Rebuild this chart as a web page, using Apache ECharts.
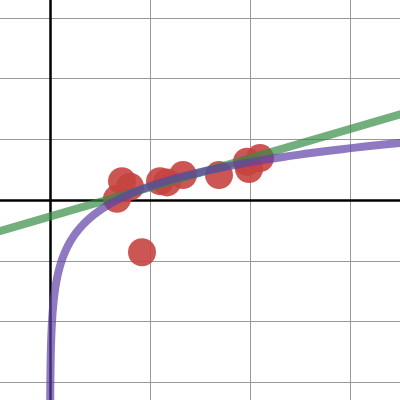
<!DOCTYPE html>
<html>
<head>
<meta charset="utf-8">
<script src="https://cdn.jsdelivr.net/npm/echarts@6/dist/echarts.min.js"></script>
<style>html,body{margin:0;padding:0;background:#fff;overflow:hidden;width:400px;height:400px}
#c{position:absolute;left:-50px;top:-43px;width:500px;height:486px}</style>
</head>
<body>
<div id="c"></div>
<script>
// observed points
const xs = [0.72, 0.67, 0.80, 0.92, 1.10, 1.17, 1.33, 1.69, 1.97, 1.99, 2.10];
const ys = [0.31, 0.02, 0.22, -0.86, 0.31, 0.29, 0.41, 0.41, 0.63, 0.51, 0.69];
// fitted models
const linSlope = 0.48, linIntercept = -0.27;
const logA = 0.226, logB = 0.57;

const points = xs.map((x, i) => [x, ys[i]]);
const linLine = [[-1, linIntercept - linSlope], [4, linIntercept + 4 * linSlope]];
const logCurve = [];
for (let i = 0; i <= 400; i++) {
  const x = 0.0005 * Math.pow(8000, i / 400);
  logCurve.push([x, logA + logB * Math.log(x)]);
}

const chart = echarts.init(document.getElementById("c"));
const axisCommon = {
  type: "value",
  interval: 1,
  axisLabel: { show: false },
  axisTick: { show: false },
  axisLine: { show: true, onZero: true, lineStyle: { color: "#000", width: 2.5 } },
  splitLine: { show: true, lineStyle: { color: "#999", width: 1 } },
};
chart.setOption({
  animation: false,
  grid: { left: 0, right: 0, top: 0, bottom: 0 },
  xAxis: { ...axisCommon, min: -1, max: 4 },
  yAxis: { ...axisCommon, min: -4, max: 4 },
  series: [
    {
      type: "line", data: linLine, showSymbol: false, z: 3,
      lineStyle: { color: "#388c46", width: 8, opacity: 0.7 },
    },
    {
      type: "scatter", data: points, symbolSize: 28, z: 2,
      itemStyle: { color: "#c74440", opacity: 0.9 },
    },
    {
      type: "line", data: logCurve, showSymbol: false, z: 4, clip: true,
      lineStyle: { color: "#6042a6", width: 8, opacity: 0.7 },
    },
  ],
});
window.onresize = () => chart.resize();
</script>
</body>
</html>
